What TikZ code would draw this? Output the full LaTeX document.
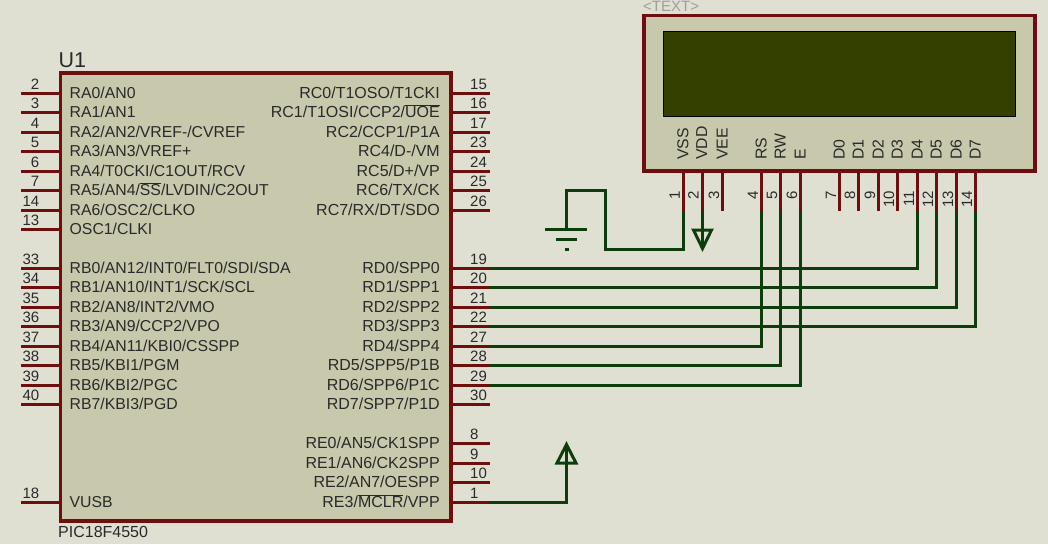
\documentclass[tikz,border=0pt]{standalone}
\usepackage{fontspec}
\setmainfont{Liberation Sans}
\newcommand\ovl[1]{$\overline{\hbox{#1}}$}
\definecolor{bgc}{HTML}{DFE0D2}
\definecolor{bodyc}{HTML}{C8C8AC}
\definecolor{redc}{HTML}{6E0E0E}
\definecolor{wirec}{HTML}{0D3D0D}
\definecolor{txtc}{HTML}{2A2A2A}
\definecolor{lcdc}{HTML}{334000}
\tikzset{
  pinline/.style={draw=redc,line width=3pt},
  wireline/.style={draw=wirec,line width=3pt,line join=miter},
  partbox/.style={draw=redc,fill=bodyc,line width=3.5pt,inner sep=0pt,outer sep=0pt,anchor=north west},
  lab/.style={inner sep=0pt,text=txtc,font=\fontsize{15.8}{15.8}\selectfont},
  numlab/.style={inner sep=0pt,text=txtc,font=\fontsize{15}{15}\selectfont},
  leftname/.style={lab,anchor=base west},
  rightname/.style={lab,anchor=base east,font=\fontsize{16}{16}\selectfont},
  rotname/.style={lab,rotate=90,anchor=base west},
  rotnum/.style={numlab,rotate=90,anchor=base east},
  tip/.style={draw=wirec,line width=3pt,line join=miter}
}
\begin{document}
\begin{tikzpicture}[x=1pt,y=-1pt]
\useasboundingbox (0,0) rectangle (1048,544);
\clip (0,0) rectangle (1048,544);
\fill[bgc] (0,0) rectangle (1048,544);
% chip
\node[partbox,minimum width=390.5pt,minimum height=448pt] (chip) at (60.5,73) {};
\node[lab,anchor=base west,font=\fontsize{21.5}{21.5}\selectfont] (u1) at (58.5,67) {U1};
\node[leftname,font=\fontsize{16}{16}\selectfont] (part) at (58,537.5) {PIC18F4550};
% left pins
\foreach \n/\y/\t in {2/93/RA0\slash AN0,3/112/RA1\slash AN1,4/132/RA2\slash AN2\slash VREF-\slash CVREF,5/151/RA3\slash AN3\slash VREF+,6/171/RA4\slash T0CKI\slash C1OUT\slash RCV,7/190/RA5\slash AN4\slash \ovl{SS}\slash LVDIN\slash C2OUT,14/210/RA6\slash OSC2\slash CLKO,13/229/OSC1\slash CLKI,33/268/RB0\slash AN12\slash INT0\slash FLT0\slash SDI\slash SDA,34/287/RB1\slash AN10\slash INT1\slash SCK\slash SCL,35/307/RB2\slash AN8\slash INT2\slash VMO,36/326/RB3\slash AN9\slash CCP2\slash VPO,37/346/RB4\slash AN11\slash KBI0\slash CSSPP,38/365/RB5\slash KBI1\slash PGM,39/385/RB6\slash KBI2\slash PGC,40/404/RB7\slash KBI3\slash PGD,18/502/VUSB}{
  \coordinate (Lo\n) at (21,\y);
  \draw[pinline] (Lo\n) -- (chip.west |- Lo\n);
  \node[numlab,anchor=base east] (Ln\n) at (39.5,\y-3.5) {\n};
  \node[leftname] (Lt\n) at (69.5,\y+5.5) {\t};
}
% right pins
\foreach \n/\y/\t in {15/93/RC0\slash T1OSO\slash T1CKI,16/112/RC1\slash T1OSI\slash CCP2\slash \ovl{UOE},17/132/RC2\slash CCP1\slash P1A,23/151/RC4\slash D-\slash VM,24/171/RC5\slash D+\slash VP,25/190/RC6\slash TX\slash CK,26/210/RC7\slash RX\slash DT\slash SDO,19/268/RD0\slash SPP0,20/287/RD1\slash SPP1,21/307/RD2\slash SPP2,22/326/RD3\slash SPP3,27/346/RD4\slash SPP4,28/365/RD5\slash SPP5\slash P1B,29/385/RD6\slash SPP6\slash P1C,30/404/RD7\slash SPP7\slash P1D,8/443/RE0\slash AN5\slash CK1SPP,9/463/RE1\slash AN6\slash CK2SPP,10/482/RE2\slash AN7\slash OESPP,1/502/RE3\slash \ovl{MCLR}\slash VPP}{
  \coordinate (Ro\n) at (490,\y);
  \draw[pinline] (chip.east |- Ro\n) -- (Ro\n);
  \node[numlab,anchor=base west] (Rn\n) at (470,\y-3.5) {\n};
  \node[rightname] (Rt\n) at (440,\y+5.5) {\t};
}
% LCD
\node[numlab,anchor=base west,text=black!38] (lcdtext) at (643,11) {<TEXT>};
\node[partbox,minimum width=391pt,minimum height=155.5pt] (lcd) at (644,15.5) {};
\node[draw=black,fill=lcdc,line width=1pt,inner sep=0pt,outer sep=0pt,anchor=north west,minimum width=352pt,minimum height=85pt] (screen) at (663,31) {};
\foreach \n/\x/\t in {1/683.3/VSS,2/702/VDD,3/722.5/VEE,4/761.5/RS,5/780.5/RW,6/800.5/E,7/839.5/D0,8/858.5/D1,9/878.5/D2,10/897.5/D3,11/917.5/D4,12/936.5/D5,13/956.5/D6,14/975.5/D7}{
  \coordinate (Po\n) at (\x,211);
  \draw[pinline] (lcd.south -| Po\n) -- (Po\n);
  \node[rotname] (Pt\n) at (\x+5,160) {\t};
  \node[rotnum] (Pn\n) at (\x-3.5,190.5) {\n};
}
% data wires
\draw[wireline] (Ro19) -| (Po11);
\draw[wireline] (Ro20) -| (Po12);
\draw[wireline] (Ro21) -| (Po13);
\draw[wireline] (Ro22) -| (Po14);
\draw[wireline] (Ro27) -| (Po4);
\draw[wireline] (Ro28) -| (Po5);
\draw[wireline] (Ro29) -| (Po6);
% ground
\coordinate (g1) at (605,249);
\coordinate (g2) at (605,190);
\coordinate (g3) at (566,190);
\coordinate (g4) at (566,229);
\draw[wireline] (Po1) |- (g1) -- (g2) -- (g3) -- (g4);
\draw[wireline] (545,229) -- (587,229);
\draw[wireline] (556,239.5) -- (577,239.5);
\draw[wireline] (565,249.5) -- (569,249.5);
% VDD power terminal
\coordinate (v1) at (702,248);
\draw[wireline] (Po2) -- (v1);
\draw[tip] (693.5,230) -- (711.5,230) -- (702.5,248.5) -- cycle;
% MCLR terminal
\coordinate (m1) at (566,446);
\draw[wireline] (Ro1) -| (m1);
\draw[tip] (557,463) -- (576,463) -- (566.5,444.5) -- cycle;
\end{tikzpicture}
\end{document}
